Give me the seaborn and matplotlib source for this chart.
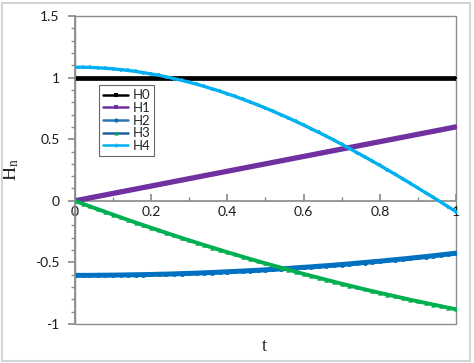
import matplotlib
matplotlib.use("Agg")
import matplotlib.pyplot as plt
import matplotlib.ticker as mticker
from matplotlib.lines import Line2D
from matplotlib.patches import Rectangle
import seaborn as sns

sns.set_theme(style="white")
plt.rcParams["font.family"] = ["Lato", "DejaVu Sans"]
plt.rcParams["mathtext.fontset"] = "stix"

t = [0.00, 0.02, 0.04, 0.06, 0.08, 0.10, 0.12, 0.14, 0.16, 0.18,
     0.20, 0.22, 0.24, 0.26, 0.28, 0.30, 0.32, 0.34, 0.36, 0.38,
     0.40, 0.42, 0.44, 0.46, 0.48, 0.50, 0.52, 0.54, 0.56, 0.58,
     0.60, 0.62, 0.64, 0.66, 0.68, 0.70, 0.72, 0.74, 0.76, 0.78,
     0.80, 0.82, 0.84, 0.86, 0.88, 0.90, 0.92, 0.94, 0.96, 0.98, 1.00]

h0 = [1.0] * 51

h1 = [0.000, 0.012, 0.024, 0.036, 0.048, 0.060, 0.072, 0.084, 0.096, 0.108,
      0.120, 0.132, 0.144, 0.156, 0.168, 0.180, 0.192, 0.204, 0.216, 0.228,
      0.240, 0.252, 0.264, 0.276, 0.288, 0.300, 0.312, 0.324, 0.336, 0.348,
      0.360, 0.372, 0.384, 0.396, 0.408, 0.420, 0.432, 0.444, 0.456, 0.468,
      0.480, 0.492, 0.504, 0.516, 0.528, 0.540, 0.552, 0.564, 0.576, 0.588, 0.600]

h2 = [-0.605, -0.605, -0.605, -0.604, -0.604, -0.603, -0.602, -0.601, -0.600, -0.599,
      -0.598, -0.596, -0.595, -0.593, -0.591, -0.589, -0.587, -0.584, -0.582, -0.579,
      -0.576, -0.573, -0.570, -0.567, -0.564, -0.560, -0.556, -0.553, -0.549, -0.544,
      -0.540, -0.536, -0.531, -0.527, -0.522, -0.517, -0.512, -0.506, -0.501, -0.495,
      -0.490, -0.484, -0.478, -0.472, -0.466, -0.459, -0.453, -0.446, -0.439, -0.432, -0.425]

h3 = [0.000, -0.023, -0.046, -0.068, -0.090, -0.112, -0.134, -0.156, -0.177, -0.198,
      -0.219, -0.240, -0.260, -0.281, -0.301, -0.321, -0.340, -0.360, -0.379, -0.398,
      -0.417, -0.435, -0.454, -0.472, -0.490, -0.508, -0.525, -0.542, -0.559, -0.576,
      -0.593, -0.609, -0.625, -0.641, -0.657, -0.673, -0.688, -0.703, -0.718, -0.733,
      -0.747, -0.761, -0.775, -0.789, -0.803, -0.816, -0.829, -0.842, -0.855, -0.868, -0.880]

h4 = [1.085, 1.084, 1.083, 1.080, 1.076, 1.071, 1.065, 1.058, 1.050, 1.040,
      1.030, 1.019, 1.006, 0.992, 0.978, 0.962, 0.946, 0.928, 0.909, 0.890,
      0.869, 0.848, 0.825, 0.802, 0.778, 0.753, 0.727, 0.700, 0.673, 0.644,
      0.615, 0.585, 0.555, 0.524, 0.492, 0.459, 0.426, 0.392, 0.358, 0.323,
      0.288, 0.252, 0.216, 0.179, 0.142, 0.104, 0.066, 0.028, -0.010, -0.049, -0.088]

names = ["H0", "H1", "H2", "H3", "H4"]
colors = ["#000000", "#7030A0", "#0070C0", "#00B050", "#00B0F0"]
markers = ["s", "s", "o", "^", "+"]
widths = [3.4, 3.8, 3.6, 2.8, 2.4]
msizes = [2.0, 3.4, 3.6, 3.2, 3.4]

fig = plt.figure(figsize=(4.74, 3.63), dpi=100)
ax = fig.add_axes([0.158, 0.1074, 0.804, 0.8485])

for y, c, m, lw, ms in zip([h0, h1, h2, h3, h4], colors, markers, widths, msizes):
    sns.lineplot(x=t, y=y, ax=ax, color=c, marker=m, markersize=ms,
                 markeredgewidth=1.1 if m == "+" else 0, markeredgecolor=c,
                 linewidth=lw, estimator=None, sort=False, legend=False)

ax.set_xlim(0, 1)
ax.set_ylim(-1, 1.5)

# plot area border, x axis drawn through y = 0
ax.patch.set_edgecolor("#8c8c8c")
ax.patch.set_linewidth(1.0)
for s in ["top", "right"]:
    ax.spines[s].set_visible(False)
ax.spines["left"].set_color("#8c8c8c")
ax.spines["bottom"].set_position(("data", 0))
ax.spines["bottom"].set_color("#8c8c8c")
ax.spines["bottom"].set_zorder(1)

fmt = mticker.FuncFormatter(lambda v, p: f"{v:g}")
ax.xaxis.set_major_locator(mticker.MultipleLocator(0.2))
ax.xaxis.set_minor_locator(mticker.MultipleLocator(0.1))
ax.yaxis.set_major_locator(mticker.MultipleLocator(0.5))
ax.yaxis.set_minor_locator(mticker.MultipleLocator(0.1))
ax.xaxis.set_major_formatter(fmt)
ax.yaxis.set_major_formatter(fmt)
ax.tick_params(axis="x", which="both", direction="in", color="#8c8c8c",
               labelsize=10, labelcolor="#1a1a1a", pad=4, bottom=True)
ax.tick_params(axis="x", which="major", length=5)
ax.tick_params(axis="x", which="minor", length=3)
ax.tick_params(axis="y", which="both", direction="out", color="#8c8c8c",
               labelsize=10, labelcolor="#1a1a1a", pad=6, left=True)
ax.tick_params(axis="y", which="major", length=5)
ax.tick_params(axis="y", which="minor", length=3)

ax.set_ylabel(r"$\mathrm{H_n}$", fontsize=14, labelpad=10)
ax.set_xlabel("t", fontsize=13, fontfamily="Liberation Serif")
ax.xaxis.set_label_coords(0.497, -0.045)

handles = []
leg_line = ["#000000", "#7030A0", "#2E75B6", "#1F5F9F", "#00B0F0"]
for lc, mc, m in zip(leg_line, colors, markers):
    handles.append(Line2D([], [], color=lc, lw=1.8, marker=m, markersize=3,
                          markerfacecolor=mc, markeredgecolor=mc,
                          markeredgewidth=1.0 if m == "+" else 0))
leg = ax.legend(handles, names, loc="upper left", bbox_to_anchor=(0.064, 0.775),
                fontsize=9.5, frameon=True, fancybox=False, handlelength=1.9,
                handletextpad=0.3, labelspacing=0.05, borderpad=0.3,
                borderaxespad=0)
leg.get_frame().set_edgecolor("#404040")
leg.get_frame().set_linewidth(0.8)

fig.patches.append(Rectangle((0.004, 0.006), 0.988, 0.986, transform=fig.transFigure,
                             fill=False, edgecolor="#d4d4d4", lw=1.5))

plt.savefig("out.png", dpi=100)
